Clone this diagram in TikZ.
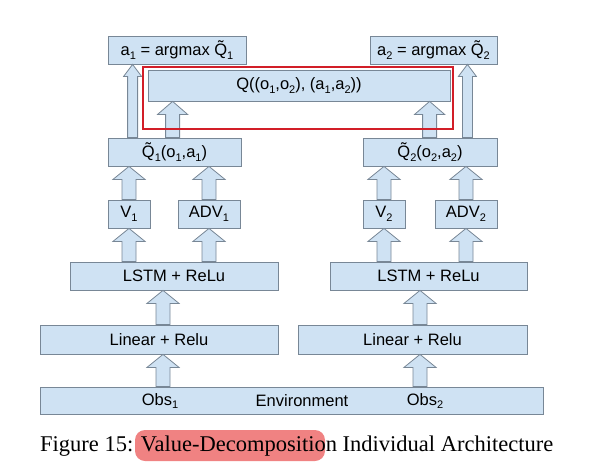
\documentclass[tikz,border=0pt]{standalone}
\usepackage{fontspec}
\setmainfont{Liberation Serif}
\newfontfamily\arialf{Liberation Sans}
\usetikzlibrary{calc}
\definecolor{boxfill}{RGB}{207,226,243}
\definecolor{boxline}{RGB}{120,135,150}
\definecolor{redbox}{RGB}{210,30,40}
\definecolor{hl}{RGB}{240,130,130}
\newcommand\sbs[1]{\raisebox{-0.45ex}{\fontsize{11}{11}\selectfont #1}}
\tikzset{
 box/.style={draw=boxline,fill=boxfill,line width=0.8pt,inner sep=0pt,font=\arialf\fontsize{16.5}{17}\selectfont},
 lbl/.style={font=\arialf\fontsize{16.5}{17}\selectfont,inner sep=0pt},
 fat/.style={draw=boxline,fill=boxfill,line width=0.8pt,line join=miter}
}
% #1 bottom coord, #2 top coord, #3 shaft half, #4 head half, #5 head height
\newcommand\fatar[5]{%
 \draw[fat] let \p1=#1, \p2=#2 in
 (\x2-#3,\y1) -- (\x2-#3,\y2-#5) -- (\x2-#4,\y2-#5) -- (\x2,\y2) -- (\x2+#4,\y2-#5) -- (\x2+#3,\y2-#5) -- (\x2+#3,\y1) -- cycle;}
\newcommand\bx[6]{\node[box,minimum width=#4-#2 pt,minimum height=#5-#3 pt] (#1) at ({(#2+#4)/2},{(#3+#5)/2}) {#6};}
\begin{document}
\begin{tikzpicture}[x=1pt,y=-1pt]
\useasboundingbox (0,0) rectangle (600,466);
\bx{a1}{108}{36}{246}{64}{a\sbs{1} = argmax \~{Q}\sbs{1}}
\bx{a2}{370}{36}{497}{64}{a\sbs{2} = argmax \~{Q}\sbs{2}}
\bx{q}{148}{70}{450}{101}{Q((o\sbs{1},o\sbs{2}), (a\sbs{1},a\sbs{2}))}
\bx{q1}{108}{138}{241}{166}{\~{Q}\sbs{1}(o\sbs{1},a\sbs{1})}
\bx{q2}{363}{138}{497}{166}{\~{Q}\sbs{2}(o\sbs{2},a\sbs{2})}
\bx{v1}{108}{200}{150}{228}{V\sbs{1}}
\bx{adv1}{178}{200}{240}{228}{ADV\sbs{1}}
\bx{v2}{363}{200}{405}{228}{V\sbs{2}}
\bx{adv2}{435}{200}{497}{228}{ADV\sbs{2}}
\bx{l1}{70}{262}{278}{290}{LSTM + ReLu}
\bx{l2}{330}{262}{527}{290}{LSTM + ReLu}
\bx{r1}{40}{325}{278}{354}{Linear + Relu}
\bx{r2}{298}{325}{527}{354}{Linear + Relu}
\node[box,minimum width=503pt,minimum height=27pt] (env) at (291.5,400.5) {};
\node[lbl] (o1) at (160,401) {Obs\sbs{1}};
\node[lbl] (en) at (302,401) {Environment};
\node[lbl] (o2) at (425,401) {Obs\sbs{2}};
% arrows
\fatar{($(env.north)+(-128.5,0)$)}{($(r1.south)+(4,0)$)}{7}{16}{13}
\fatar{($(env.north)+(128.5,0)$)}{($(r2.south)+(7.5,0)$)}{7}{16}{13}
\fatar{($(r1.north)+(4,0)$)}{($(l1.south)-(11,0)$)}{7}{16}{13}
\fatar{($(r2.north)+(7.5,0)$)}{($(l2.south)-(8.5,0)$)}{7}{16}{13}
\fatar{(l1.north -| v1.south)}{(v1.south)}{7}{16}{13}
\fatar{(l1.north -| adv1.south)}{(adv1.south)}{7}{16}{13}
\fatar{(l2.north -| v2.south)}{(v2.south)}{7}{16}{13}
\fatar{(l2.north -| adv2.south)}{(adv2.south)}{7}{16}{13}
\fatar{(v1.north)}{(q1.south -| v1.north)}{7}{16}{13}
\fatar{(adv1.north)}{(q1.south -| adv1.north)}{7}{16}{13}
\fatar{(v2.north)}{(q2.south -| v2.north)}{7}{16}{13}
\fatar{(adv2.north)}{(q2.south -| adv2.north)}{7}{16}{13}
\fatar{($(q1.north west)+(25,0)$)}{($(a1.south west)+(25,0)$)}{5}{9}{12}
\fatar{($(q2.north east)+(-30,0)$)}{($(a2.south east)+(-30,0)$)}{5}{9}{12}
\fatar{($(q1.north west)+(65,0)$)}{($(q.south west)+(25,0)$)}{7}{15}{13}
\fatar{($(q2.north west)+(67,0)$)}{($(q.south west)+(282,0)$)}{7}{15}{13}
\node[draw=redbox,line width=2pt,minimum width=310pt,minimum height=62pt,inner sep=0pt] (red) at (298,98) {};
% caption
\fill[hl,rounded corners=10pt] (135,430) rectangle (325,461);
\node[anchor=west,font=\fontsize{22.5}{23}\selectfont,inner sep=0pt] (cap) at (40,446) {Figure 15: Value-Decomposition Individual Architecture};
\end{tikzpicture}
\end{document}
